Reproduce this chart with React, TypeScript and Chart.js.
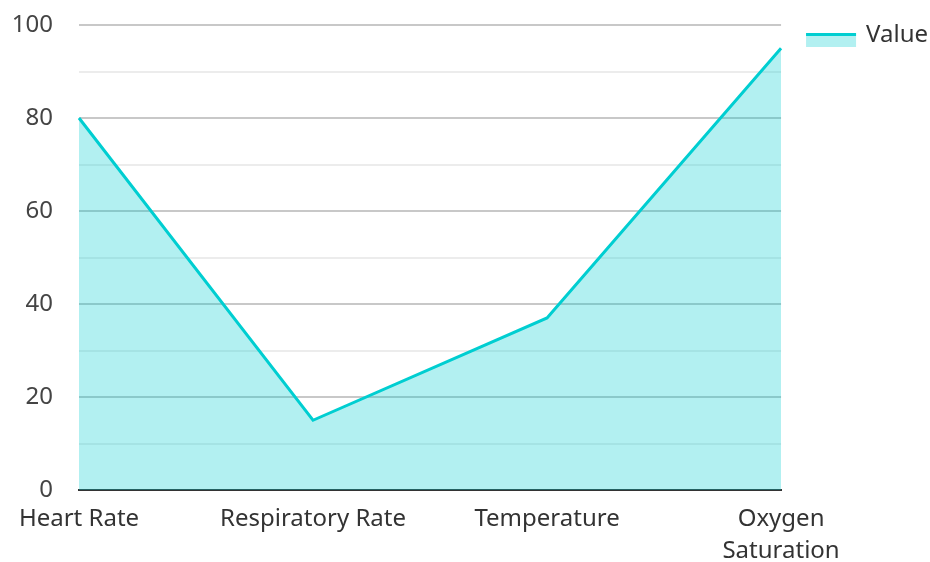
import React, { useEffect, useRef } from "react";
import { Chart, registerables } from "chart.js";

Chart.register(...registerables);

const categories: (string | string[])[] = ["Heart Rate", "Respiratory Rate", "Temperature", ["Oxygen", "Saturation"]];
const values: number[] = [80, 15, 37, 95];
const seriesName = "Value";
const yMin = 0;
const yMax = 100;
const yStep = 10;
const yLabelStep = 20;

const LINE = "#00CED1";
const FILL = "rgba(0,206,209,0.3)";
const FONT = "'Noto Sans', 'Open Sans', sans-serif";

export default function App() {
  const ref = useRef<HTMLCanvasElement | null>(null);
  useEffect(() => {
    document.body.style.margin = "0";
    const legendBox = {
      id: "legendBox",
      afterDraw(chart: any) {
        const lg = chart.legend;
        if (!lg || !lg.legendHitBoxes) return;
        const ctx = chart.ctx;
        lg.legendHitBoxes.forEach((b: any) => {
          const top = b.top + 10;
          ctx.save();
          ctx.fillStyle = FILL;
          ctx.fillRect(b.left, top, 50, 14);
          ctx.strokeStyle = LINE;
          ctx.lineWidth = 3;
          ctx.beginPath();
          ctx.moveTo(b.left, top + 1.5);
          ctx.lineTo(b.left + 50, top + 1.5);
          ctx.stroke();
          ctx.restore();
        });
      },
    };
    const chart = new Chart(ref.current!, {
      type: "line",
      data: {
        labels: categories,
        datasets: [
          {
            label: seriesName,
            data: values,
            borderColor: LINE,
            backgroundColor: FILL,
            borderWidth: 3,
            fill: "origin",
            tension: 0,
            pointRadius: 0,
          },
        ],
      },
      options: {
        animation: false,
        responsive: false,
        layout: { padding: { left: 12, right: -8, top: -2, bottom: 0 } },
        plugins: {
          legend: {
            position: "right",
            align: "start",
            labels: {
              boxWidth: 48,
              boxHeight: 14,
              padding: 25,
              color: "#333",
              font: { family: FONT, size: 24 },
              generateLabels: (c: any) =>
                c.data.datasets.map((d: any, i: number) => ({
                  text: d.label,
                  fillStyle: "rgba(0,0,0,0)",
                  strokeStyle: "rgba(0,0,0,0)",
                  lineWidth: 0,
                  datasetIndex: i,
                  fontColor: "#333",
                })),
            },
          },
          tooltip: { enabled: false },
        },
        scales: {
          x: {
            offset: false,
            grid: { display: false, drawTicks: false },
            border: { display: true, color: "#333", width: 2 },
            afterFit: (s: any) => {
              s.height = 72;
            },
            ticks: {
              color: "#333",
              font: { family: FONT, size: 24, lineHeight: 1.333 },
              padding: 13,
              maxRotation: 0,
              autoSkip: false,
            },
          },
          y: {
            min: yMin,
            max: yMax,
            afterFit: (s: any) => {
              s.width = 67;
              s.paddingTop = 25;
            },
            grid: {
              drawTicks: false,
              color: (c: any) => (c.tick && c.tick.value % yLabelStep === 0 ? "#c8c8c8" : "#ececec"),
              lineWidth: 2,
            },
            border: { display: false },
            ticks: {
              stepSize: yStep,
              color: "#444",
              padding: 26,
              font: { family: FONT, size: 24 },
              callback: (v: any) => (Number(v) % yLabelStep === 0 ? String(v) : ""),
            },
          },
        },
      },
      plugins: [legendBox],
    });
    return () => chart.destroy();
  }, []);
  return (
    <div style={{ width: 930, height: 562 }}>
      <canvas ref={ref} width={930} height={562} style={{ display: "block" }} />
    </div>
  );
}
